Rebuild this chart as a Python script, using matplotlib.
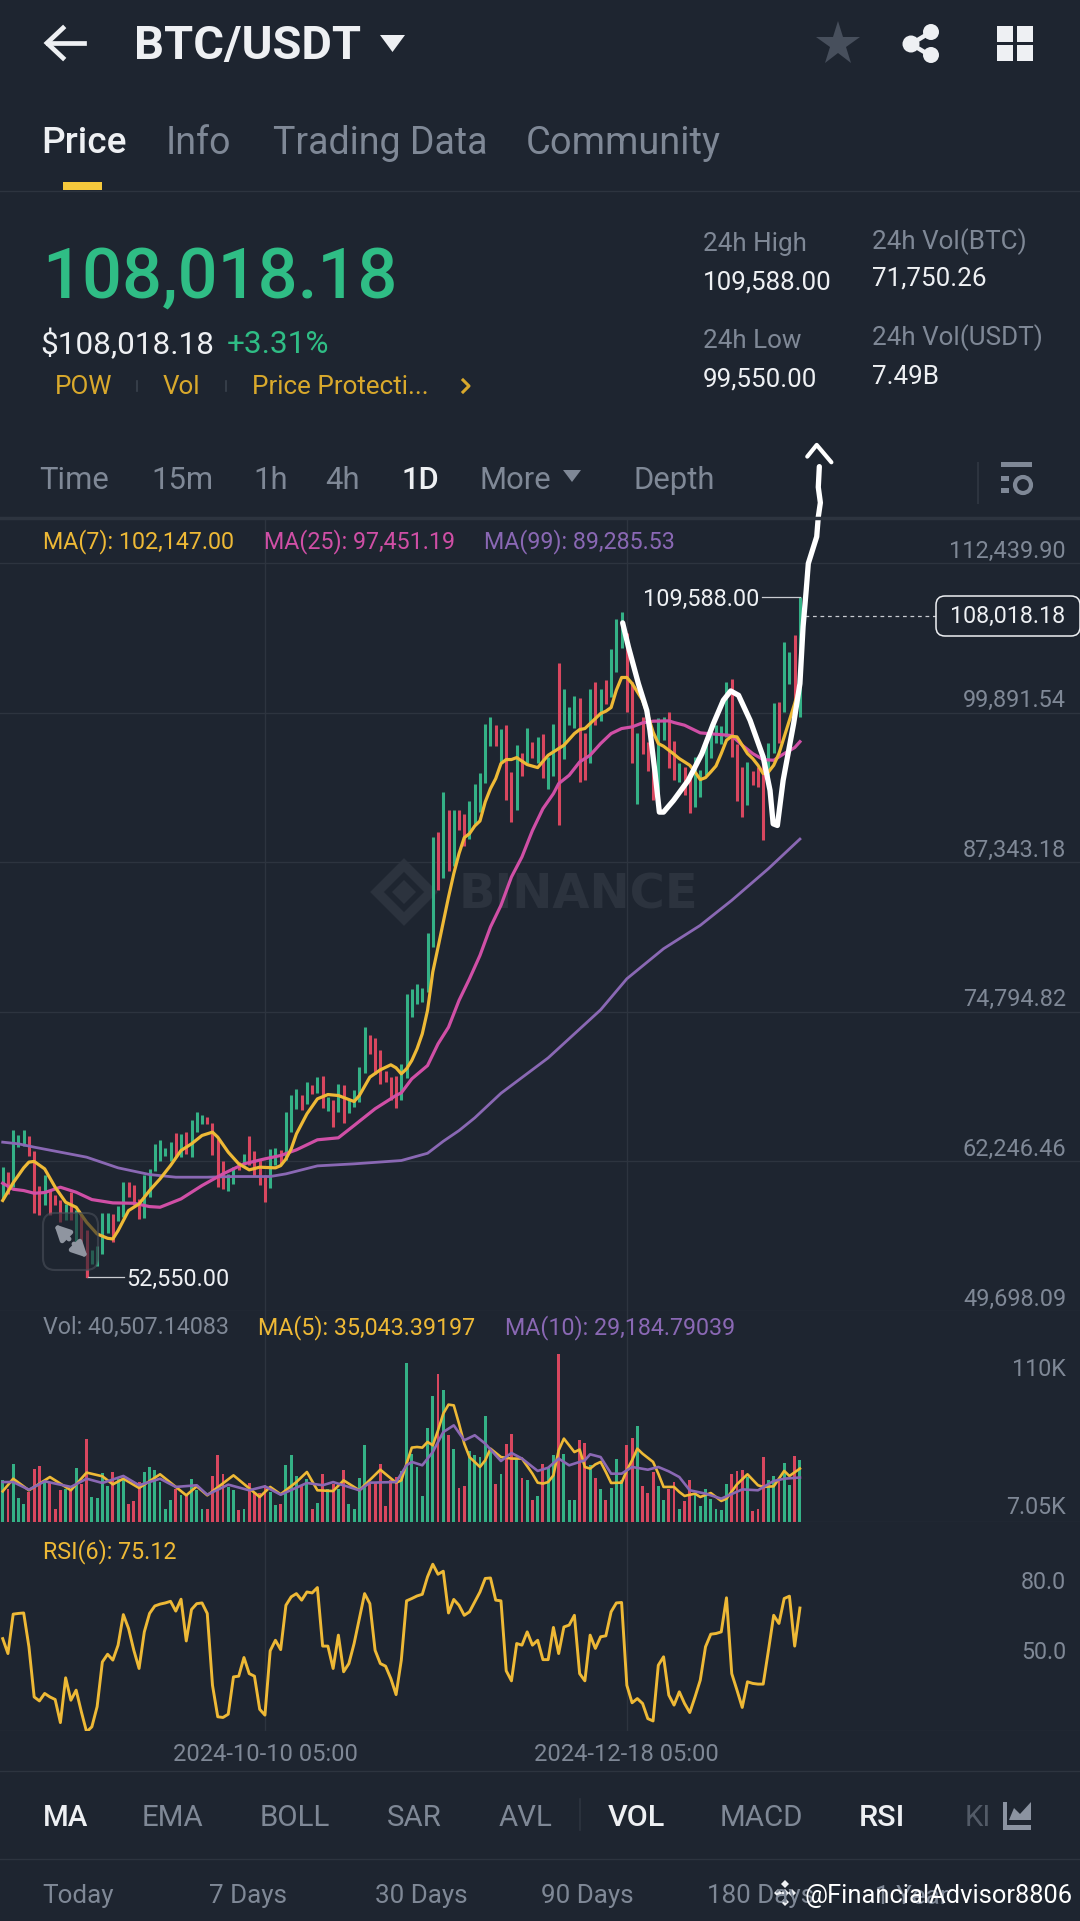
import matplotlib
matplotlib.use("Agg")
import matplotlib.pyplot as plt
from matplotlib.patches import Rectangle, Polygon, FancyBboxPatch, Circle
import numpy as np

plt.rcParams['font.family'] = ['Roboto', 'DejaVu Sans']

# colours
BG = '#1e2530'
GRID = '#2d343f'
GREEN = '#34b186'
RED = '#d9475f'
YELLOW = '#eeb936'
PINK = '#d04fa6'
PURPLE = '#8a68b4'
GREY = '#7f8896'
WHITE = '#eef0f3'

# daily bars, 2024-08-21 to 2025-01-20
highs = [61768, 61348, 64846, 64426, 64902, 64370, 63083, 60145, 61068, 59809,
         59445, 58970, 58690, 59670, 58131, 57851, 56452, 54773, 55192, 57935,
         57935, 57851, 58466, 60509, 60509, 60285, 59110, 61068, 61628, 63727,
         64006, 63391, 63867, 64622, 64566, 64706, 65741, 66385, 66161, 65965,
         65489, 64146, 62244, 61208, 61768, 62188, 62887, 64370, 63083, 62468,
         61068, 63307, 63363, 63167, 66384, 67839, 68343, 67839, 68903, 68623,
         69322, 69406, 67644, 67364, 68763, 68679, 67364, 68203, 70162, 73520,
         72876, 72596, 71561, 69826, 69322, 69406, 70442, 76318, 76737, 77101,
         76821, 81438, 89468, 89888, 93190, 91707, 91763, 91707, 91371, 92490,
         93861, 94785, 98926, 99541, 98842, 98478, 98842, 94868, 97163, 96463,
         98562, 97386, 97806, 98086, 96183, 98925, 104018, 101835, 100380, 101276,
         101136, 98198, 101835, 102479, 101835, 102619, 105193, 107739, 108299, 106536,
         102479, 98142, 99485, 97400, 96400, 99400, 99485, 99961, 97527, 95680,
         95344, 94645, 96184, 95064, 97723, 98926, 98842, 98786, 102423, 102703,
         97219, 95344, 95764, 94981, 95344, 96044, 97303, 100661, 100801, 105837,
         104942, 106397, 109588]
lows = [59110, 59529, 60089, 63447, 63503, 62663, 57935, 57767, 58606, 57711,
        58550, 57152, 57291, 57291, 55052, 55052, 52550, 53654, 53514, 54493,
        56228, 55472, 57235, 57571, 59250, 58550, 57431, 57515, 59250, 61432,
        62244, 62663, 62244, 62607, 62607, 62887, 62607, 64706, 65349, 65349,
        62747, 60089, 59893, 59725, 60369, 61544, 61908, 61908, 60985, 60229,
        58830, 60005, 61908, 62048, 62327, 64706, 66608, 66580, 67084, 67923,
        67979, 66720, 66468, 65126, 66384, 65489, 66328, 66804, 67224, 69658,
        71281, 69602, 68707, 68903, 67364, 66720, 67364, 69238, 74359, 75422,
        75618, 76457, 80235, 84992, 86055, 86614, 87006, 90028, 88685, 89329,
        90532, 91567, 94001, 97107, 97107, 95764, 92546, 90727, 91763, 94589,
        95624, 96043, 95624, 94365, 93525, 94588, 90447, 95960, 98841, 98618,
        94085, 94225, 95624, 98841, 99205, 100576, 101220, 103318, 105333, 99961,
        95680, 92210, 96407, 94980, 92546, 93000, 97583, 95205, 94225, 94085,
        92966, 91483, 91987, 92826, 94645, 96044, 97359, 97219, 97863, 96184,
        92462, 91147, 92127, 93806, 93666, 89245, 94225, 96464, 97303, 99906,
        102256, 100801, 99550]
directions = ("GRGGGRRRGR" "RRGRGRRGGG" "GRGGRRRGGG" "GGGRGRGGGR" "RRRGGRGRRR"
              "RGGRGGGRGR" "GRGRGRGGGG" "RRRRRRGGGG" "GGGRGRGRRG" "GGGGRGRRGR"
              "GRGRGGRGGG" "RRGRGRGGGR" "RGRRRGGRRG" "RRGGGGGGGR" "RRGRRRGGRG" "GRG")

# volume in thousands of BTC
volumes = [27.3, 21.9, 37.8, 15.7, 12.0, 19.7, 35.0, 36.7, 26.2, 26.2,
           8.7, 20.8, 21.9, 21.9, 35.4, 25.2, 54.2, 16.4, 16.0, 32.4,
           23.4, 32.8, 28.4, 28.4, 12.0, 13.6, 26.2, 32.8, 35.9, 33.9,
           26.2, 8.3, 14.2, 21.9, 17.5, 17.5, 28.4, 20.8, 8.7, 8.3,
           30.0, 43.7, 31.7, 23.0, 20.8, 7.7, 8.7, 25.8, 19.7, 19.2,
           24.1, 19.7, 10.9, 12.0, 37.6, 43.7, 30.0, 24.1, 28.4, 8.3,
           12.5, 31.7, 21.9, 25.2, 21.9, 34.3, 11.6, 8.3, 29.1, 50.3,
           26.2, 26.2, 38.3, 10.3, 27.3, 29.5, 33.2, 104.3, 44.4, 36.1,
           16.8, 61.9, 82.4, 97.3, 86.8, 56.9, 47.7, 22.5, 23.6, 46.6,
           43.7, 42.6, 69.3, 45.9, 24.7, 31.3, 51.0, 58.0, 41.6, 28.9,
           27.3, 14.2, 16.8, 38.3, 36.1, 43.7, 110.0, 44.8, 14.7, 14.7,
           53.6, 51.8, 37.2, 29.1, 21.9, 14.2, 22.3, 41.1, 27.3, 50.3,
           55.1, 62.8, 23.4, 19.2, 32.8, 23.4, 14.2, 21.9, 26.2, 8.3,
           13.6, 27.8, 18.6, 10.3, 21.9, 14.9, 8.7, 7.7, 25.2, 31.7,
           33.5, 34.3, 29.5, 7.0, 8.3, 42.6, 27.8, 30.2, 27.3, 38.9,
           24.1, 43.3, 40.5]

rsi = [62.0, 55.6, 72.5, 72.8, 73.0, 58.5, 37.0, 35.3, 38.5, 37.0,
       35.9, 26.0, 45.2, 35.6, 39.9, 30.6, 22.0, 24.2, 32.8, 52.0,
       55.3, 52.8, 59.2, 72.3, 66.3, 57.0, 49.2, 64.9, 72.8, 76.0,
       76.8, 77.3, 78.0, 73.8, 78.9, 61.0, 74.5, 77.0, 77.3, 72.8,
       42.0, 28.5, 28.2, 29.6, 45.6, 45.9, 53.9, 47.0, 45.9, 31.7,
       29.2, 56.8, 61.3, 57.3, 76.3, 79.9, 81.3, 78.5, 82.0, 81.6,
       83.9, 58.8, 58.8, 49.2, 63.5, 47.8, 51.3, 59.9, 70.6, 81.3,
       77.0, 57.0, 51.3, 50.2, 44.9, 38.0, 52.8, 78.2, 79.2, 80.3,
       81.0, 88.5, 93.9, 89.6, 90.9, 73.0, 78.8, 76.3, 72.0, 73.5,
       77.8, 82.0, 87.8, 88.0, 78.5, 78.2, 48.2, 43.9, 59.9, 59.2,
       64.9, 59.2, 61.3, 53.0, 53.0, 66.8, 55.6, 67.0, 67.8, 72.0,
       47.0, 43.9, 63.5, 57.8, 62.8, 63.2, 73.5, 77.3, 77.5, 42.0,
       34.5, 36.3, 34.2, 27.7, 26.7, 50.6, 54.2, 37.8, 33.5, 39.2,
       34.2, 30.3, 37.0, 44.2, 58.5, 63.9, 64.2, 64.9, 79.5, 47.0,
       39.9, 32.5, 43.5, 42.8, 42.5, 42.5, 57.0, 72.0, 68.5, 79.2,
       80.2, 58.8, 75.12]

# moving averages (bar index, price)
ma7_idx = [0, 2, 4, 5, 6, 8, 10, 12, 14, 16, 18, 20, 21, 22, 24, 26, 28, 30, 32, 34,
           36, 38, 40, 41, 43, 45, 47, 49, 52, 53, 54, 55, 56, 58, 60, 62, 64, 67, 68, 70,
           72, 74, 75, 76, 77, 78, 79, 80, 81, 82, 83, 84, 85, 86, 87, 88, 89, 90, 91, 92,
           93, 94, 95, 96, 97, 98, 100, 102, 104, 106, 107, 109, 110, 111, 112, 114, 115, 116, 117, 118,
           119, 120, 121, 122, 123, 124, 125, 126, 127, 128, 129, 130, 131, 132, 133, 134, 135, 136, 137, 138,
           139, 140, 141, 142, 143, 144, 145, 146, 147, 148, 149, 150, 151, 152]
ma7 = [58970, 60453, 61705, 62188, 62243, 61621, 60081, 58821, 58401, 57141,
       56161, 55797, 55741, 56441, 58121, 58681, 59801, 60781, 61901, 63161,
       63721, 64421, 64701, 64281, 63021, 62041, 61537, 61761, 61705, 61892,
       62452, 63292, 64552, 66232, 67492, 67856, 67772, 67268, 67772, 69312,
       69928, 70348, 70096, 69592, 70012, 70712, 71692, 72952, 74912, 78132,
       80200, 82319, 84419, 86379, 88059, 89403, 89739, 90383, 90803, 92399,
       93519, 94359, 95619, 95955, 95955, 96118, 95530, 95278, 96314, 96874,
       97154, 98134, 98470, 98554, 98974, 99814, 100010, 100318, 101774, 102838,
       102838, 102334, 101634, 100934, 99674, 98274, 97294, 97070, 96734, 96400,
       96034, 95754, 95474, 94914, 94270, 94438, 94914, 95418, 96454, 97574,
       97910, 97854, 97154, 96454, 96034, 95474, 94774, 94914, 95474, 96454,
       97854, 99254, 100654, 102147]

ma25_idx = [0, 2, 4, 6, 8, 11, 14, 17, 21, 25, 28, 30, 34, 38, 42, 46, 50, 53, 56, 60,
            64, 67, 71, 75, 76, 78, 81, 83, 85, 87, 89, 91, 93, 95, 97, 99, 101, 103, 105, 106,
            108, 110, 112, 114, 116, 118, 120, 122, 124, 127, 128, 130, 133, 136, 139, 141, 143, 145, 147, 149,
            151, 152]
ma25 = [60417, 59913, 59801, 59577, 59633, 60081, 59661, 59045, 58765, 58737,
        58457, 58401, 59101, 60221, 61201, 62041, 62461, 62741, 63217, 64057,
        64225, 65261, 66661, 67781, 68000, 69172, 70286, 72106, 73506, 75746,
        77566, 79526, 81906, 83726, 86106, 87786, 90000, 91834, 93094, 93934,
        94634, 95754, 96314, 97294, 98134, 98554, 98694, 99030, 99170, 99198,
        99058, 98834, 98190, 98078, 97966, 97154, 96454, 95950, 95894, 96454,
        96958, 97451]

ma99_idx = [0, 3, 6, 11, 16, 22, 28, 33, 39, 44, 51, 54, 60, 67, 76, 81, 84, 87, 90, 95,
            104, 109, 114, 119, 126, 133, 139, 146, 152]
ma99 = [63861, 63721, 63441, 63021, 62601, 61705, 61145, 60921, 60921, 60977,
        60977, 61201, 61870, 62041, 62320, 62928, 63936, 64832, 65900, 67962,
        70930, 72946, 74962, 77566, 80086, 82046, 84146, 86806, 89285]

# volume averages (bar index, thousands)
vol_ma5_idx = [0, 2, 5, 9, 13, 16, 19, 21, 23, 26, 30, 35, 37, 39, 44, 49, 51, 53, 56, 58,
               60, 63, 65, 68, 72, 75, 76, 77, 78, 79, 80, 81, 82, 83, 84, 85, 86, 87, 88, 89,
               91, 92, 93, 95, 97, 99, 101, 102, 103, 104, 105, 106, 107, 108, 109, 110, 111, 112, 113, 114,
               115, 116, 118, 119, 120, 121, 122, 124, 125, 126, 128, 129, 130, 132, 133, 135, 137, 138, 140, 142,
               144, 145, 147, 149, 150, 152]
vol_ma5 = [20.1, 28.4, 20.8, 29.5, 20.8, 32.4, 30.0, 24.7, 28.4, 22.3,
           31.3, 17.5, 23.4, 17.5, 30.6, 16.4, 23.0, 18.2, 26.2, 32.8,
           20.8, 20.3, 27.3, 20.8, 34.3, 25.8, 27.3, 38.3, 48.8, 49.2,
           48.8, 52.5, 50.3, 60.1, 71.1, 77.0, 76.5, 64.5, 51.4, 42.6,
           36.1, 40.5, 48.1, 42.6, 41.6, 41.6, 31.7, 25.8, 25.2, 26.2,
           30.6, 47.0, 54.7, 50.3, 45.9, 47.5, 36.1, 35.0, 37.8, 39.4,
           32.8, 25.6, 25.8, 33.9, 40.5, 48.1, 44.8, 39.4, 31.7, 23.0,
           23.0, 19.7, 17.1, 18.6, 16.4, 19.0, 13.8, 15.3, 24.7, 31.3,
           24.1, 23.0, 23.4, 33.5, 30.2, 35.04]
vol_ma10_idx = [0, 2, 5, 8, 13, 16, 19, 23, 26, 30, 33, 37, 39, 43, 47, 50, 53, 58, 61, 63,
                68, 70, 75, 77, 78, 79, 80, 82, 84, 86, 88, 90, 92, 95, 97, 99, 102, 104, 106, 108,
                111, 112, 114, 116, 118, 120, 123, 125, 127, 129, 131, 134, 137, 141, 144, 147, 149, 152]
vol_ma10 = [26.2, 26.2, 21.2, 26.7, 23.0, 28.4, 25.6, 30.2, 24.1, 28.4,
            23.0, 24.1, 17.9, 24.5, 20.8, 23.4, 17.9, 25.6, 24.1, 26.2,
            20.8, 25.8, 26.2, 37.2, 39.4, 38.3, 37.2, 45.9, 59.0, 63.4,
            53.6, 56.9, 51.4, 40.0, 45.3, 41.6, 33.5, 35.6, 41.6, 37.2,
            40.5, 44.4, 42.6, 31.7, 31.7, 36.1, 34.3, 36.1, 33.2, 29.5,
            20.8, 18.6, 15.3, 21.4, 20.8, 26.9, 28.4, 29.18]

# white hand drawn stroke on top of the screenshot
drawn_x = [118.2, 119.3, 121.2, 122.8, 123.4, 124.4, 125.2, 126.0, 127.9, 130.7,
           133.3, 135.5, 137.4, 138.8, 140.3, 142.5, 145.0, 146.3, 146.9, 147.7,
           148.8, 150.8, 152.0, 152.6, 153.2, 153.6, 155.2, 155.5, 155.9, 155.5, 155.7]
drawn_p = [107420, 105404, 102324, 100084, 98404, 94764, 91544, 91544, 92524, 94204,
           96444, 98964, 100924, 101708, 101344, 99244, 96164, 93364, 90564, 90424,
           94204, 98964, 102324, 107084, 110164, 112404, 114644, 116300, 117500, 118800, 120524]
arrow_x = [153.4, 155.2, 158.0]
arrow_p = [121364, 122344, 120888]

price_ticks = [112439.90, 99891.54, 87343.18, 74794.82, 62246.46, 49698.09]
price_labels = ['112,439.90', '99,891.54', '87,343.18', '74,794.82', '62,246.46', '49,698.09']
date_idx = [50, 119]
date_labels = ['2024-10-10 05:00', '2024-12-18 05:00']
last_price = 108018.18
high_price = 109588.00
low_price = 52550.00
high_idx = 152
low_idx = 16

W, H = 1080, 1921
fig = plt.figure(figsize=(W / 100, H / 100), dpi=100, facecolor=BG)


def panel(top, bottom, z=2):
    ax = fig.add_axes([0, 1 - bottom / H, 1, (bottom - top) / H], zorder=z)
    ax.patch.set_alpha(0)
    for s in ax.spines.values():
        s.set_visible(False)
    ax.tick_params(length=0, labelleft=False, labelbottom=False)
    ax.set_xlim(-0.515, 205.4)
    ax.set_xticks(date_idx)
    ax.grid(axis='x', color=GRID, lw=1.0)
    ax.set_axisbelow(True)
    return ax


# pixel space layers for the app chrome
back = fig.add_axes([0, 0, 1, 1], zorder=0)
ui = fig.add_axes([0, 0, 1, 1], zorder=5)
for a in (back, ui):
    a.set_xlim(0, W)
    a.set_ylim(H, 0)
    a.axis('off')
    a.patch.set_alpha(0)


def label(x, y, s, px, color=GREY, ha='left', weight='normal', **kw):
    # the 2.5 px nudge lines Roboto up with the app font
    return ui.text(x, y + 2.5, s, fontsize=px * 0.72, color=color, ha=ha, va='center',
                   fontweight=weight, **kw)


# --- price panel
ax = panel(518, 1311)
ax.set_ylim(49698.09, 116214.5)
ax.set_yticks(price_ticks)
ax.grid(axis='y', color=GRID, lw=1.0)

idx = np.arange(len(highs))
colors = [GREEN if d == 'G' else RED for d in directions]
ax.vlines(idx, lows, highs, colors=colors, lw=2.2, zorder=3)
ax.plot(ma99_idx, ma99, color=PURPLE, lw=2.0, zorder=4)
ax.plot(ma25_idx, ma25, color=PINK, lw=2.3, zorder=4)
ax.plot(ma7_idx, ma7, color=YELLOW, lw=2.3, zorder=5)
ax.plot(drawn_x, drawn_p, color='white', lw=3.8, zorder=6, clip_on=False,
        solid_capstyle='round', solid_joinstyle='round')
ax.plot(arrow_x, arrow_p, color='white', lw=3.0, zorder=6, clip_on=False,
        solid_capstyle='round')

for t, s in zip(price_ticks, price_labels):
    ax.annotate(s, xy=(1, t), xycoords=ax.get_yaxis_transform(), xytext=(-14, 12),
                textcoords='offset pixels', ha='right', va='center', color=GREY,
                fontsize=23.5 * 0.72)

# high, low and last price callouts
ax.plot([high_idx - 7.2, high_idx], [high_price, high_price], color='#c9ccd1', lw=0.9, zorder=5)
ax.text(high_idx - 7.7, high_price - 170, '109,588.00', color=WHITE, fontsize=23.5 * 0.72,
        ha='right', va='center', zorder=7)
ax.plot([low_idx, low_idx + 7.2], [low_price, low_price], color='#c9ccd1', lw=0.9, zorder=5)
ax.plot([low_idx, low_idx], [low_price, low_price + 1600], color=RED, lw=1.6, zorder=5)
ax.text(low_idx + 7.6, low_price - 170, '52,550.00', color=WHITE, fontsize=23.5 * 0.72,
        ha='left', va='center', zorder=7)
ax.plot([high_idx + 1, 178], [last_price, last_price], color='#c9ccd1', lw=0.9, ls=(0, (3, 3)), zorder=2)

# --- volume panel
vol = panel(1311, 1522)
vol.set_ylim(0, 138.4)
vol.set_yticks([0])
vol.grid(axis='y', color=GRID, lw=1.0)
vol.bar(idx, volumes, width=0.55, color=colors, zorder=3)
vol.plot(vol_ma5_idx, vol_ma5, color=YELLOW, lw=1.9, zorder=4)
vol.plot(vol_ma10_idx, vol_ma10, color=PURPLE, lw=1.9, zorder=5)

# --- RSI panel
rs = panel(1522, 1731)
rs.set_ylim(22.4, 112.0)
rs.set_yticks([22.4])
rs.grid(axis='y', color=GRID, lw=1.0)
rs.plot(idx, rsi, color=YELLOW, lw=2.1, zorder=4)

# --- watermark behind the chart
back.add_patch(Polygon([(404, 865), (431, 892), (404, 919), (377, 892)], closed=True,
                       fc='none', ec='#2c333e', lw=7))
back.add_patch(Polygon([(404, 880), (416, 892), (404, 904), (392, 892)], closed=True,
                       fc='#2c333e', ec='none'))
back.text(578, 895, 'BINANCE', color='#2c333e', fontsize=48 * 0.72, fontweight='bold',
          family='DejaVu Sans', ha='center', va='center')

# --- header
ui.plot([48, 84], [43, 43], color=WHITE, lw=3.4)
ui.plot([63, 47, 63], [28, 43, 58], color=WHITE, lw=3.4, solid_joinstyle='miter')
label(134, 43, 'BTC/USDT', 47, WHITE, weight='bold')
ui.add_patch(Polygon([(380, 35), (405, 35), (392.5, 52)], closed=True, fc=WHITE, ec='none'))
ui.plot([838], [44], marker='*', ms=33, color='#474f5c', mew=0)
ui.plot([931, 911, 931], [32, 44, 56], color=WHITE, lw=3.2)
for cx, cy, r in [(931, 32, 8), (911, 44, 8.5), (931, 55, 8)]:
    ui.add_patch(Circle((cx, cy), r, fc=WHITE, ec='none'))
for rx, ry, rw, rh in [(997, 26, 16, 16), (1017, 26, 16, 16), (997, 45, 16, 16), (1017, 45, 16, 16)]:
    ui.add_patch(Rectangle((rx, ry), rw, rh, fc=WHITE, ec='none'))

label(41, 141, 'Price', 37, WHITE, weight='medium')
label(166, 141, 'Info', 37.5, GREY)
label(273, 141, 'Trading Data', 37.5, GREY)
label(526, 141, 'Community', 38, GREY)
ui.add_patch(Rectangle((63, 182), 39, 8, fc='#f6c93c', ec='none'))
ui.plot([0, W], [190.5, 190.5], color=GRID, lw=1)

# --- price block
label(42, 276, '108,018.18', 70.5, '#2fbd85', weight='medium')
label(40, 342, '$108,018.18', 31.5, WHITE)
label(227, 342, '+3.31%', 31.5, '#2fbd85')
label(55, 384, 'POW', 26, '#d9a92c')
label(163, 384, 'Vol', 26, '#d9a92c')
label(252, 384, 'Price Protecti...', 26, '#d9a92c')
ui.plot([463, 469, 463], [380, 386, 392], color='#d9a92c', lw=2.2)
ui.plot([137, 137], [381, 391], color='#3a424e', lw=1.2)
ui.plot([226, 226], [381, 391], color='#3a424e', lw=1.2)
label(703, 242, '24h High', 26)
label(703, 280, '109,588.00', 26, WHITE)
label(703, 339, '24h Low', 26)
label(703, 377, '99,550.00', 26, WHITE)
label(872, 239, '24h Vol(BTC)', 26)
label(872, 276, '71,750.26', 26, WHITE)
label(872, 335, '24h Vol(USDT)', 26)
label(872, 374, '7.49B', 26, WHITE)

# --- interval row
label(39, 478, 'Time', 31)
label(151, 478, '15m', 31)
label(253, 478, '1h', 31)
label(325, 478, '4h', 31)
label(401, 478, '1D', 31, WHITE, weight='medium')
label(479, 478, 'More', 31)
ui.add_patch(Polygon([(563, 470), (581, 470), (572, 482)], closed=True, fc=GREY, ec='none'))
label(633, 478, 'Depth', 31)
ui.plot([978, 978], [463, 503], color=GRID, lw=1.5)
ui.add_patch(Rectangle((1001, 462), 31, 5, fc=GREY, ec='none'))
ui.add_patch(Rectangle((1001, 476), 8, 5, fc=GREY, ec='none'))
ui.add_patch(Rectangle((1001, 488), 8, 5, fc=GREY, ec='none'))
ui.add_patch(Circle((1023, 485), 8, fc=BG, ec=GREY, lw=3))
ui.plot([0, W], [518, 518], color=GRID, lw=2.5)

# --- panel legends
label(43, 539, 'MA(7): 102,147.00', 23.3, YELLOW)
label(264, 539, 'MA(25): 97,451.19', 23.3, PINK)
label(484, 539, 'MA(99): 89,285.53', 23.3, PURPLE)
label(43, 1325, 'Vol: 40,507.14083', 23.3)
label(258, 1325, 'MA(5): 35,043.39197', 23.3, YELLOW)
label(505, 1325, 'MA(10): 29,184.79039', 23.3, PURPLE)
label(1066, 1367, '110K', 23.3, ha='right')
label(1066, 1505, '7.05K', 23.3, ha='right')
label(43, 1549, 'RSI(6): 75.12', 23.3, YELLOW)
label(1066, 1580, '80.0', 23.3, ha='right')
label(1066, 1650, '50.0', 23.3, ha='right')
for i, s in zip(date_idx, date_labels):
    label(2.7 + 5.245 * i, 1752, s, 23.8, ha='center')

# last price tag
ui.add_patch(FancyBboxPatch((941, 601), 134, 30, boxstyle='round,pad=5,rounding_size=9',
                            fc=BG, ec=WHITE, lw=1.1))
label(1008, 614, '108,018.18', 23.3, WHITE, ha='center')

# expand button over the candles
ui.add_patch(FancyBboxPatch((49, 1219), 43, 45, boxstyle='round,pad=6,rounding_size=12',
                            fc=BG, ec='#4a505a', lw=1.5, alpha=0.6))
ui.annotate('', xy=(54, 1224), xytext=(69, 1239),
            arrowprops=dict(arrowstyle='-|>', color='#8f95a0', lw=3.5, mutation_scale=22, shrinkA=0, shrinkB=0))
ui.annotate('', xy=(88, 1258), xytext=(74, 1244),
            arrowprops=dict(arrowstyle='-|>', color='#8f95a0', lw=3.5, mutation_scale=22, shrinkA=0, shrinkB=0))

# --- indicator row
ui.plot([0, W], [1771, 1771], color=GRID, lw=1)
label(43, 1816, 'MA', 29.5, WHITE, weight='medium')
label(142, 1816, 'EMA', 29.5)
label(260, 1816, 'BOLL', 29.5)
label(387, 1816, 'SAR', 29.5)
label(499, 1816, 'AVL', 29.5)
ui.plot([580, 580], [1799, 1830], color=GRID, lw=1.2)
label(608, 1816, 'VOL', 30.5, WHITE, weight='medium')
label(720, 1816, 'MACD', 29.5)
label(859, 1816, 'RSI', 30.5, WHITE, weight='medium')
label(965, 1816, 'KI', 29.5, alpha=0.55)
ui.add_patch(Polygon([(1003, 1802), (1007, 1802), (1007, 1825), (1031, 1825), (1031, 1830), (1003, 1830)],
                     closed=True, fc='#8b93a1', ec='none'))
ui.add_patch(Polygon([(1009, 1820), (1014, 1808), (1020, 1814), (1031, 1802), (1031, 1820)],
                     closed=True, fc='#8b93a1', ec='none'))
ui.plot([0, W], [1859, 1859], color=GRID, lw=1)

# --- period row and reposter tag
label(42, 1894, 'Today', 26)
label(209, 1894, '7 Days', 26)
label(375, 1894, '30 Days', 26)
label(541, 1894, '90 Days', 26)
label(707, 1894, '180 Days', 26)
label(875, 1894, '1 Year', 26)
for dx, dy in [(0, -9), (-7, 0), (7, 0), (0, 9), (0, 0)]:
    ui.plot([785 + dx], [1893 + dy], marker='D', ms=4.2, color=WHITE, mew=0)
label(804, 1894, '@FinancialAdvisor8806', 25.5, 'white')

fig.savefig('out.png', dpi=100, facecolor=BG)
